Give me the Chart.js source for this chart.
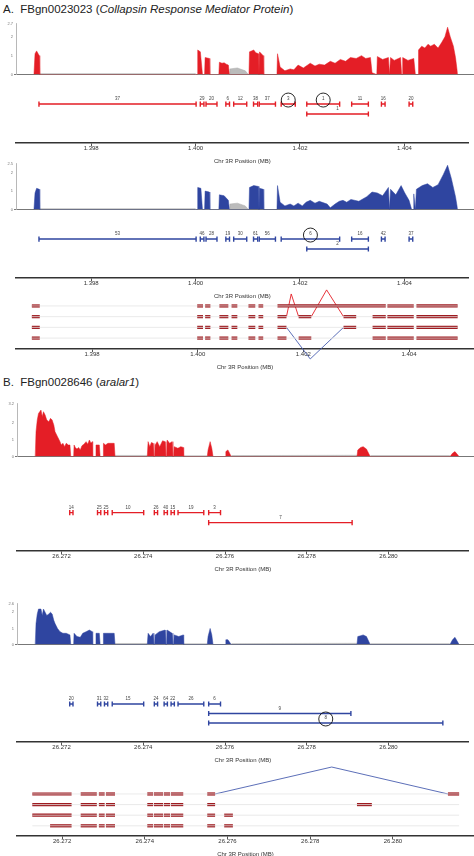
<!DOCTYPE html>
<html><head><meta charset="utf-8">
<script src="https://cdn.jsdelivr.net/npm/chart.js@4"></script>
<style>
body{margin:0;background:#fff;width:474px;height:856px;position:relative;overflow:hidden;font-family:"Liberation Sans",Arial,sans-serif}
canvas{position:absolute;left:0}
.ttl{position:absolute;left:3px;font-size:11.5px;color:#222;white-space:nowrap}
</style></head><body>
<div class="ttl" style="top:3px">A.&nbsp; FBgn0023023 (<i>Collapsin Response Mediator Protein</i>)</div>
<div class="ttl" style="top:376px">B.&nbsp; FBgn0028646 (<i>aralar1</i>)</div>
<script>
// ---- panel A data (MB) ----
var aRange = [1.39656, 1.40523];
var aTicks = [1.398, 1.400, 1.402, 1.404];
var aRedCov = [[1.39690,0],[1.39692,1.1],[1.39695,1.25],[1.39700,1.0],[1.39701,0],[1.39999,0],[1.40000,1.3],[1.40005,1.2],[1.40009,0],[1.40013,0],[1.40014,0.9],[1.40022,0.85],[1.40023,0],[1.40040,0],[1.40041,0.65],[1.40046,0.6],[1.40050,0.62],[1.40054,0.55],[1.40058,0.5],[1.40060,0],[1.40097,0],[1.40098,1.2],[1.40102,1.25],[1.40106,1.3],[1.40110,1.15],[1.40115,1.1],[1.40116,0],[1.40117,1.2],[1.40124,1.0],[1.40125,0],[1.40150,0],[1.40151,1.1],[1.40156,0.4],[1.40165,0.2],[1.40175,0.3],[1.40182,0.25],[1.40190,0.5],[1.40200,0.35],[1.40213,0.6],[1.40222,0.45],[1.40230,0.55],[1.40240,0.5],[1.40251,0.7],[1.40260,0.6],[1.40270,0.8],[1.40280,0.7],[1.40289,0.9],[1.40300,0.85],[1.40310,1.0],[1.40318,0.85],[1.40327,0.9],[1.40330,0.1],[1.40339,0],[1.40340,0.95],[1.40350,0.8],[1.40361,0.9],[1.40363,0],[1.40365,0.9],[1.40372,0.75],[1.40380,0.85],[1.40384,0.9],[1.40386,0],[1.40387,0],[1.40388,0.9],[1.40398,0.75],[1.40409,0.85],[1.40412,0],[1.40417,0],[1.40418,1.3],[1.40424,1.5],[1.40430,1.4],[1.40436,1.6],[1.40441,1.5],[1.40448,1.6],[1.40455,1.4],[1.40462,1.7],[1.40468,2.0],[1.40473,2.5],[1.40478,2.0],[1.40484,1.5],[1.40488,0.9],[1.40492,0]];
var aBlueCov = [[1.39690,0],[1.39692,0.9],[1.39695,1.15],[1.39700,1.1],[1.39701,0],[1.39999,0],[1.40000,1.2],[1.40006,1.15],[1.40009,0],[1.40013,0],[1.40014,1.0],[1.40022,0.95],[1.40023,0],[1.40040,0],[1.40041,0.8],[1.40050,0.75],[1.40058,0.5],[1.40060,0],[1.40097,0],[1.40098,1.2],[1.40106,1.3],[1.40115,1.25],[1.40116,0],[1.40117,1.15],[1.40124,1.1],[1.40125,0],[1.40150,0],[1.40151,1.3],[1.40156,0.4],[1.40165,0.2],[1.40175,0.3],[1.40182,0.2],[1.40190,0.35],[1.40198,0.2],[1.40205,0.4],[1.40213,0.5],[1.40222,0.35],[1.40230,0.45],[1.40245,0.3],[1.40251,0.1],[1.40260,0.3],[1.40268,0.45],[1.40275,0.5],[1.40282,0.4],[1.40290,0.55],[1.40305,0.45],[1.40320,0.7],[1.40330,0.95],[1.40340,0.9],[1.40350,0.75],[1.40361,1.2],[1.40363,0],[1.40365,1.1],[1.40375,0.8],[1.40385,1.3],[1.40392,0.9],[1.40400,0.5],[1.40405,0],[1.40408,0],[1.40409,0.85],[1.40412,0],[1.40413,0],[1.40414,1.1],[1.40425,1.3],[1.40435,1.4],[1.40445,1.2],[1.40455,1.35],[1.40465,1.9],[1.40473,2.4],[1.40480,1.7],[1.40488,0.7],[1.40492,0]];
var aGrayCov = [[1.39701,0.05],[1.39995,0.05],[1.39996,0],[1.40060,0],[1.40061,0.3],[1.40075,0.35],[1.40090,0.2],[1.40096,0]];
// [label, start, end, row, circled]
var aRedInts = [['37',1.39700,1.40001,1,0],['29',1.40009,1.40016,1,0],['20',1.40020,1.40041,1,0],['6',1.40058,1.40065,1,0],['12',1.40073,1.40098,1,0],['38',1.40111,1.40119,1,0],['37',1.40122,1.40153,1,0],['3',1.40164,1.40191,1,1],['1',1.40213,1.40276,1,1],['11',1.40299,1.40331,1,0],['16',1.40356,1.40363,1,0],['20',1.40409,1.40416,1,0],['1',1.40213,1.40331,2,0]];
var aBlueInts = [['53',1.39700,1.40001,1,0],['46',1.40009,1.40016,1,0],['28',1.40020,1.40041,1,0],['19',1.40058,1.40065,1,0],['30',1.40073,1.40098,1,0],['61',1.40111,1.40119,1,0],['56',1.40122,1.40153,1,0],['6',1.40164,1.40276,1,1],['16',1.40299,1.40331,1,0],['42',1.40356,1.40363,1,0],['37',1.40409,1.40416,1,0],['2',1.40213,1.40331,2,0]];
var aShared = [[1.39686,1.39701],[1.39999,1.40010],[1.40014,1.40024],[1.40041,1.40058],[1.40064,1.40075],[1.40096,1.40109],[1.40115,1.40124]];
var aIso = [
  aShared.concat([[1.40151,1.40356],[1.40359,1.40409],[1.40414,1.40492]]),
  aShared.concat([[1.40151,1.40168],[1.40191,1.40215],[1.40276,1.40300],[1.40331,1.40356],[1.40359,1.40409],[1.40414,1.40492]]),
  aShared.concat([[1.40151,1.40168],[1.40276,1.40300],[1.40331,1.40356],[1.40359,1.40409],[1.40414,1.40492]]),
  aShared.concat([[1.40151,1.40168],[1.40191,1.40215],[1.40331,1.40356],[1.40359,1.40409],[1.40414,1.40492]])
];
var aRedArc = [[1.40168,2],[1.40177,-0.12],[1.40191,2],[null,null],[1.40215,2],[1.40244,-0.5],[1.40276,2]];
var aBlueArc = [[1.40168,3],[1.40213,5.95],[1.40276,3]];

// ---- panel B data (MB) ----
var bRange = [26.27091, 26.28196];
var bTicks = [26.272, 26.274, 26.276, 26.278, 26.280];
var bRedCov = [[26.27135,0],[26.27137,1.5],[26.27140,2.2],[26.27143,2.6],[26.27149,2.8],[26.27152,2.4],[26.27155,2.7],[26.27159,2.5],[26.27163,2.2],[26.27168,2.1],[26.27172,2.3],[26.27176,2.2],[26.27180,1.9],[26.27183,1.5],[26.27189,1.2],[26.27195,0.9],[26.27198,0.7],[26.27202,0.8],[26.27206,0.6],[26.27210,0.8],[26.27215,0.7],[26.27219,0.7],[26.27221,0],[26.27228,0],[26.27229,0.7],[26.27232,0.55],[26.27236,0.45],[26.27240,0.55],[26.27244,0.4],[26.27248,0.65],[26.27253,0.75],[26.27258,0.9],[26.27262,0.75],[26.27266,1.0],[26.27270,0.8],[26.27273,0.9],[26.27274,0],[26.27281,0],[26.27282,0.7],[26.27290,0.7],[26.27292,0],[26.27299,0],[26.27300,0.8],[26.27305,0.7],[26.27311,0.8],[26.27326,0.8],[26.27328,0],[26.27406,0],[26.27408,0.9],[26.27412,0.6],[26.27416,0.85],[26.27420,0.8],[26.27422,0],[26.27424,0],[26.27425,0.7],[26.27430,0.9],[26.27436,0.6],[26.27443,0.95],[26.27449,0.9],[26.27451,0],[26.27453,0],[26.27454,1.0],[26.27460,0.8],[26.27466,0.9],[26.27468,0],[26.27470,0],[26.27471,0.6],[26.27480,0.5],[26.27487,0.6],[26.27493,0.55],[26.27494,0],[26.27551,0],[26.27553,0.4],[26.27558,0.9],[26.27562,0.5],[26.27565,0],[26.27594,0],[26.27596,0.3],[26.27601,0.4],[26.27609,0],[26.27913,0],[26.27915,0.4],[26.27922,0.55],[26.27928,0.6],[26.27936,0.45],[26.27945,0],[26.28138,0],[26.28144,0.2],[26.28150,0.3],[26.28160,0]];
var bBlueCov = [[26.27135,0],[26.27137,1.3],[26.27140,1.9],[26.27143,2.2],[26.27149,2.2],[26.27152,1.8],[26.27155,2.2],[26.27159,2.0],[26.27163,1.8],[26.27168,1.9],[26.27172,2.0],[26.27176,1.9],[26.27180,1.5],[26.27183,1.3],[26.27189,1.0],[26.27195,0.8],[26.27202,0.7],[26.27210,0.7],[26.27219,0.6],[26.27221,0],[26.27228,0],[26.27229,0.7],[26.27236,0.5],[26.27244,0.45],[26.27250,0.7],[26.27258,0.8],[26.27266,0.9],[26.27273,0.8],[26.27274,0],[26.27281,0],[26.27282,0.7],[26.27290,0.7],[26.27292,0],[26.27299,0],[26.27300,0.7],[26.27311,0.7],[26.27326,0.7],[26.27328,0],[26.27406,0],[26.27408,0.7],[26.27414,0.5],[26.27420,0.7],[26.27422,0],[26.27424,0],[26.27425,0.6],[26.27435,0.8],[26.27449,0.9],[26.27451,0],[26.27453,0],[26.27454,0.9],[26.27466,0.7],[26.27468,0],[26.27470,0],[26.27471,0.6],[26.27482,0.5],[26.27493,0.6],[26.27494,0],[26.27551,0],[26.27553,0.5],[26.27558,1.0],[26.27562,0.6],[26.27565,0],[26.27594,0],[26.27596,0.3],[26.27601,0.3],[26.27609,0],[26.27913,0],[26.27915,0.5],[26.27922,0.55],[26.27928,0.6],[26.27936,0.5],[26.27945,0],[26.28138,0],[26.28144,0.3],[26.28150,0.45],[26.28160,0]];
var bGrayCov = [[26.27328,0.07],[26.27406,0.07],[26.27407,0],[26.27494,0],[26.27495,0.05],[26.27550,0.05],[26.27551,0],[26.27609,0],[26.27610,0.06],[26.27912,0.08],[26.27913,0],[26.27945,0],[26.27946,0.06],[26.28137,0.06],[26.28138,0]];
var bRedInts = [['14',26.27220,26.27228,1,0],['25',26.27288,26.27296,1,0],['25',26.27305,26.27313,1,0],['10',26.27324,26.27401,1,0],['26',26.27427,26.27435,1,0],['40',26.27451,26.27459,1,0],['15',26.27468,26.27476,1,0],['19',26.27485,26.27548,1,0],['3',26.27560,26.27589,1,0],['7',26.27560,26.27911,2,0]];
var bBlueInts = [['20',26.27220,26.27228,1,0],['31',26.27288,26.27296,1,0],['32',26.27305,26.27313,1,0],['15',26.27324,26.27401,1,0],['24',26.27427,26.27435,1,0],['64',26.27451,26.27459,1,0],['22',26.27468,26.27476,1,0],['26',26.27485,26.27548,1,0],['6',26.27560,26.27589,1,0],['9',26.27560,26.27908,2,0],['8',26.27560,26.28133,3,1]];
var bFirst = [[26.27245,26.27284],[26.27289,26.27303],[26.27306,26.27328]];
var bMid = [[26.27406,26.27420],[26.27422,26.27444],[26.27446,26.27461],[26.27463,26.27493],[26.27551,26.27570]];
var bIso = [
  [[26.27128,26.27223]].concat(bFirst, bMid, [[26.28133,26.28160]]),
  [[26.27128,26.27223]].concat(bFirst, bMid, [[26.27913,26.27949]]),
  [[26.27128,26.27223]].concat(bFirst, bMid, [[26.27592,26.27613]]),
  [[26.27171,26.27223]].concat(bFirst, bMid, [[26.27592,26.27613]])
];
var bIsoSpan = [26.27128, 26.28160];
var bBlueArc = [[26.27570,1],[26.27852,-1.54],[26.28133,1]];

var RED = '#e41e26', BLUE = '#2f45a0', EXON = '#9e1b20', FONT = '"Liberation Sans", Arial, sans-serif';
Chart.defaults.font.family = FONT;
Chart.defaults.animation = false;

function pts(list) { return list.map(function (p) { return { x: p[0], y: p[1] }; }); }

function makeChart(top, height, datasets, xOpt, yOpt, padTop, plugins) {
  var c = document.createElement('canvas');
  c.width = 474; c.height = height;
  c.style.top = top + 'px';
  document.body.appendChild(c);
  return new Chart(c, {
    type: 'line',
    data: { datasets: datasets },
    options: {
      responsive: false, animation: false,
      layout: { padding: { top: padTop || 0, right: 0, left: 0, bottom: 0 } },
      plugins: { legend: { display: false }, tooltip: { enabled: false } },
      elements: { point: { radius: 0 }, line: { tension: 0 } },
      scales: { x: xOpt, y: yOpt }
    },
    plugins: plugins || []
  });
}

function hiddenX(range) { return { type: 'linear', min: range[0], max: range[1], display: false }; }
function axisX(range, ticks) {
  return {
    type: 'linear', min: range[0], max: range[1],
    afterFit: function (s) { s.height = 22; },
    afterBuildTicks: function (s) { s.ticks = ticks.map(function (v) { return { value: v }; }); },
    border: { display: true, color: '#333', width: 1.5 },
    grid: { drawOnChartArea: false, tickLength: 3, color: '#555' },
    ticks: { font: { size: 6 }, color: '#333', padding: -1, maxRotation: 0, callback: function (v) { return v.toFixed(3); } },
    title: { display: true, text: 'Chr 3R Position (MB)', font: { size: 6 }, color: '#333', padding: 0 }
  };
}
function covY(max, w) {
  return {
    min: 0, max: max, afterFit: function (s) { s.width = w; },
    border: { display: true, color: '#999', width: 0.7 },
    grid: { drawTicks: true, tickLength: 2, color: function (ctx) { return ctx.tick && ctx.tick.value === 0 ? '#777' : 'rgba(0,0,0,0)'; } },
    ticks: { stepSize: 1, font: { size: 4 }, color: '#777', padding: 1 }
  };
}
function rowY(min, max, w) {
  return { min: min, max: max, reverse: true, display: true, afterFit: function (s) { s.width = w; },
    border: { display: false }, grid: { display: false }, ticks: { display: false } };
}
function covSets(main, gray, color) {
  return [
    { data: pts(main), borderColor: color, backgroundColor: color, borderWidth: 0.5, fill: 'origin' },
    { data: pts(gray), borderColor: '#aaa', backgroundColor: '#bbb', borderWidth: 0.5, fill: 'origin' }
  ];
}
function intervalSet(ints, color) {
  var d = [];
  ints.forEach(function (it) { d.push({ x: it[1], y: it[3] }, { x: it[2], y: it[3] }, { x: it[2], y: NaN }); });
  return { data: d, borderColor: color, borderWidth: 1.4, spanGaps: false,
    pointStyle: 'line', pointRotation: 90, pointBorderWidth: 1.4, borderCapStyle: 'butt',
    pointRadius: function (ctx) { return isNaN(ctx.raw.y) ? 0 : 2.6; }, pointBorderColor: color };
}
function labelPlugin(ints) {
  return { id: 'ilabels', afterDatasetsDraw: function (chart) {
    var g = chart.ctx, xs = chart.scales.x, ys = chart.scales.y;
    g.save(); g.font = '4.5px ' + FONT; g.fillStyle = '#444'; g.textAlign = 'center'; g.textBaseline = 'middle';
    ints.forEach(function (it) {
      var cx = xs.getPixelForValue((it[1] + it[2]) / 2), cy = ys.getPixelForValue(it[3]) - 5;
      g.fillText(it[0], cx, cy);
      if (it[4]) { g.beginPath(); g.strokeStyle = '#111'; g.lineWidth = 0.9; g.arc(cx, cy + 1, 7, 0, Math.PI * 2); g.stroke(); }
    });
    g.restore();
  } };
}
function isoSets(rows, span) {
  var guides = [], exons = [];
  rows.forEach(function (r, i) {
    var lo = span ? span[0] : r[0][0], hi = span ? span[1] : r[r.length - 1][1];
    guides.push({ data: [{ x: lo, y: i + 1 }, { x: hi, y: i + 1 }], borderColor: '#e4e4e4', backgroundColor: '#e4e4e4', borderWidth: 0.8, fill: false });
    r.forEach(function (e) {
      exons.push({ data: [{ x: e[0], y: i + 1 }, { x: e[1], y: i + 1 }], borderColor: EXON, backgroundColor: EXON, borderWidth: 3.2, borderCapStyle: 'butt', fill: false });
    });
  });
  return guides.concat(exons);
}
function arcSet(list, color) {
  return { data: pts(list), borderColor: color, borderWidth: 0.9, clip: false, spanGaps: false, fill: false };
}

// ---- panel A ----
makeChart(20, 58, covSets(aRedCov, aGrayCov, RED), hiddenX(aRange), covY(2.7, 16));
makeChart(86, 79, [intervalSet(aRedInts, RED)], axisX(aRange, aTicks), rowY(-0.27, 4.91, 16), 0, [labelPlugin(aRedInts)]);
makeChart(160, 53, covSets(aBlueCov, aGrayCov, BLUE), hiddenX(aRange), covY(2.5, 16));
makeChart(221, 79, [intervalSet(aBlueInts, BLUE)], axisX(aRange, aTicks), rowY(-0.27, 4.91, 16), 0, [labelPlugin(aBlueInts)]);
makeChart(288, 83, isoSets(aIso).concat([arcSet(aRedArc, RED), arcSet(aBlueArc, '#4a5fb0')]), axisX(aRange, aTicks), rowY(0.07, 5.02, 16), 8);

// ---- panel B ----
makeChart(400, 60, covSets(bRedCov, bGrayCov, RED), hiddenX(bRange), covY(3.2, 17));
makeChart(488, 85, [intervalSet(bRedInts, RED)], axisX(bRange, bTicks), rowY(-0.91, 4.82, 17), 0, [labelPlugin(bRedInts)]);
makeChart(600, 48, covSets(bBlueCov, bGrayCov, BLUE), hiddenX(bRange), covY(2.55, 17));
makeChart(685, 79, [intervalSet(bBlueInts, BLUE)], axisX(bRange, bTicks), rowY(-0.43, 5.0, 17), 0, [labelPlugin(bBlueInts)]);
makeChart(760, 98, isoSets(bIso, bIsoSpan).concat([arcSet(bBlueArc, '#4a5fb0')]), axisX(bRange, bTicks), rowY(0.06, 4.96, 17), 24);
</script>
</body></html>
